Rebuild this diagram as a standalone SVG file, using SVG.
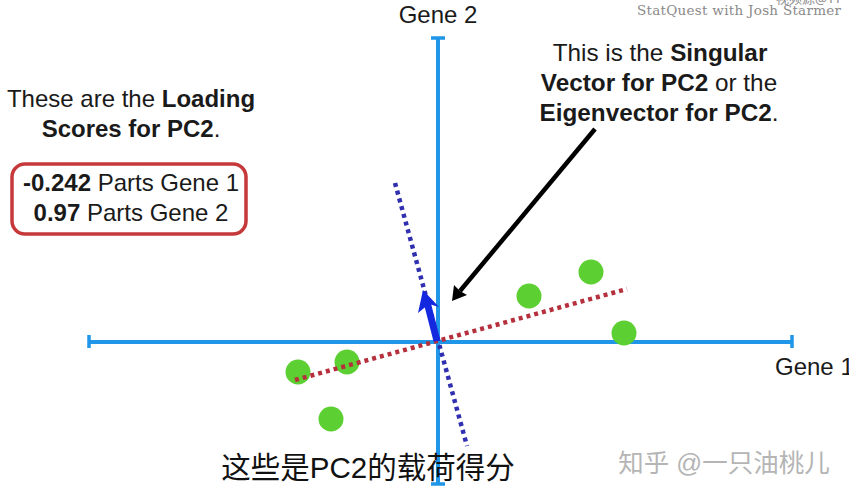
<svg xmlns="http://www.w3.org/2000/svg" width="849" height="496" viewBox="0 0 849 496">
<style>
.t{font-family:"Liberation Sans",Arial,sans-serif;font-size:24px;fill:#1a1a1a}
.w{font-size:24.3px}
.b{font-weight:bold}
.c{font-family:"Liberation Sans","Noto Sans CJK SC",sans-serif}
.d{fill:#5ccf32}
.ax{stroke:#1f96e8;fill:none}
</style>
<rect width="849" height="496" fill="#fff"/>
<g id="axes" class="ax">
<path d="M89 342H793" stroke-width="4"/>
<path d="M89 335V348M792 335V348" stroke-width="3.5"/>
<path d="M438 38V484" stroke-width="4"/>
<path d="M431 38H445M431 484H445" stroke-width="3.5"/>
</g>
<g id="points">
<circle class="d" cx="529" cy="296" r="12.5"/>
<circle class="d" cx="591" cy="272" r="12.5"/>
<circle class="d" cx="624" cy="333" r="12.5"/>
<circle class="d" cx="347" cy="362" r="12.5"/>
<circle class="d" cx="298" cy="372" r="12.5"/>
<circle class="d" cx="331" cy="419" r="12.5"/>
</g>
<g id="connectors">
<path id="pc2-line" d="M395 183L467 446" stroke="#2f2fb0" stroke-width="4.5" stroke-dasharray="4 4" fill="none"/>
<path id="pc1-line" d="M295 380L627 289" stroke="#b5303c" stroke-width="4.5" stroke-dasharray="4 4" fill="none"/>
<path id="pc2-vector" d="M437 341L427 302" stroke="#1428e0" stroke-width="7" fill="none"/>
<path d="M423 290L439 307L429 304L418 313Z" fill="#1428e0"/>
<path id="pointer" d="M595 129L460 291" stroke="#000" stroke-width="4.5" fill="none"/>
<path d="M452 301L454 285L460 291L467 295Z" fill="#000"/>
</g>
<g id="gene2-label"><text class="t" x="438" y="23" text-anchor="middle">Gene 2</text></g>
<g id="gene1-label"><text class="t" x="775" y="375">Gene 1</text></g>
<g id="watermark-top">
<text x="809" y="3" text-anchor="middle" font-family="'Noto Sans CJK SC',sans-serif" font-size="13" fill="#8a8a8a">视频源@YT</text>
<text x="637" y="15" textLength="204" font-family="'DejaVu Serif',serif" font-size="13.5" fill="#8a8a8a">StatQuest with Josh Starmer</text>
</g>
<g id="singular-note">
<text class="t w" x="660" y="61" text-anchor="middle">This is the <tspan class="b">Singular</tspan></text>
<text class="t w" x="659" y="91" text-anchor="middle"><tspan class="b">Vector for PC2</tspan> or the</text>
<text class="t w" x="659" y="121" text-anchor="middle"><tspan class="b">Eigenvector for PC2</tspan>.</text>
</g>
<g id="loading-note">
<text class="t" x="131" y="107" text-anchor="middle">These are the <tspan class="b">Loading</tspan></text>
<text class="t" x="131" y="137" text-anchor="middle"><tspan class="b">Scores for PC2</tspan>.</text>
</g>
<g id="scores-box">
<rect x="12" y="164" width="234" height="70" rx="13" fill="#fff" stroke="#c5393a" stroke-width="3.5"/>
<text class="t" x="131" y="191" text-anchor="middle"><tspan class="b">-0.242</tspan> Parts Gene 1</text>
<text class="t" x="131" y="221" text-anchor="middle"><tspan class="b">0.97</tspan> Parts Gene 2</text>
</g>
<g id="subtitle"><text class="c" x="368" y="478" text-anchor="middle" font-size="29.5" fill="#111">这些是PC2的载荷得分</text></g>
<g id="watermark"><text class="c" x="724" y="472" text-anchor="middle" font-size="25.5" fill="#b5b5b5">知乎 @一只油桃儿</text></g>
</svg>
